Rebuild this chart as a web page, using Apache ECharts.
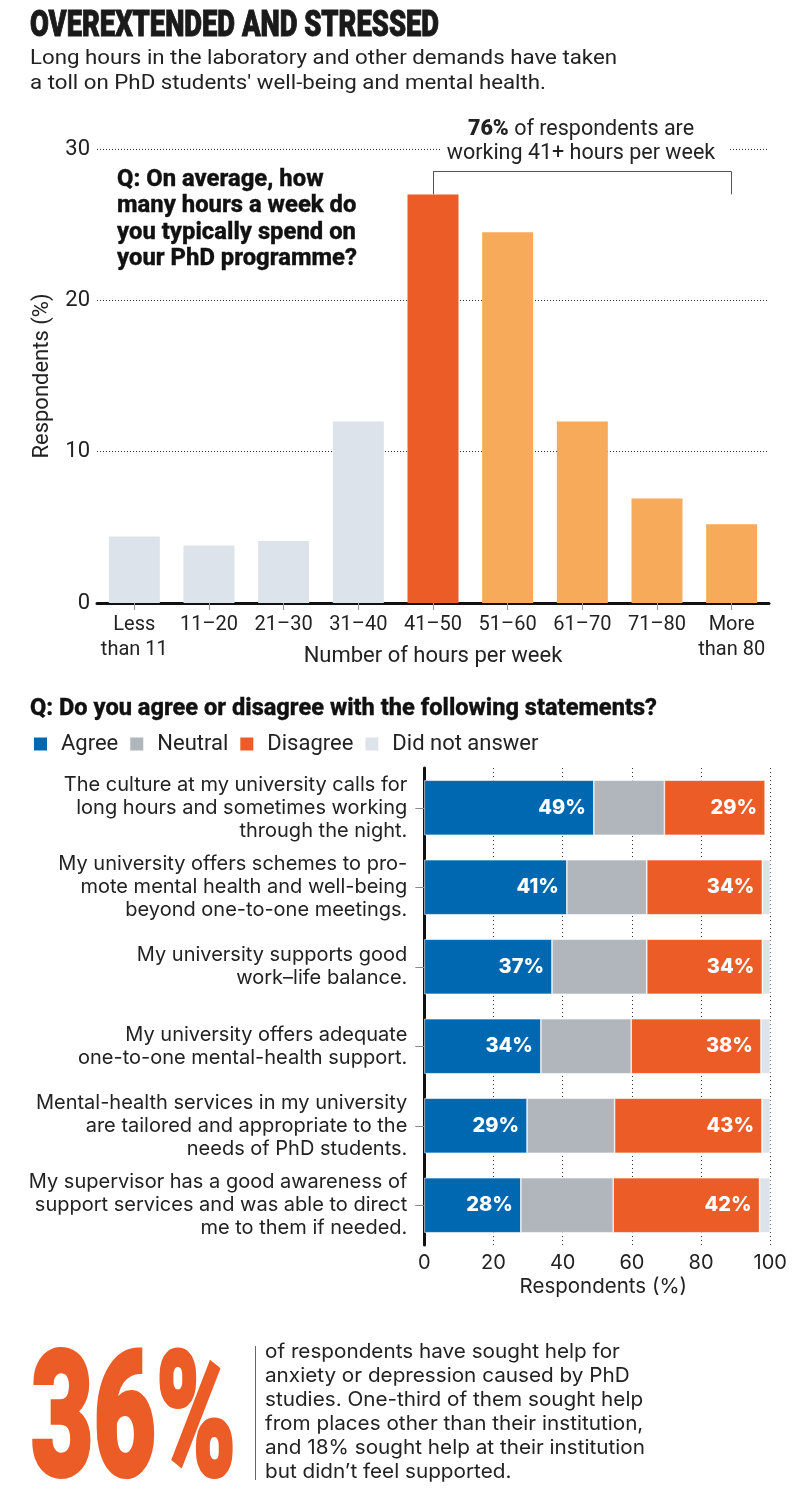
<!DOCTYPE html>
<html>
<head>
<meta charset="utf-8">
<script src="https://cdn.jsdelivr.net/npm/echarts@6/dist/echarts.min.js"></script>
<style>
html,body{margin:0;padding:0;background:#fff}
#chart{width:800px;height:1497px}
</style>
</head>
<body>
<div id="chart"></div>
<script>
var hourCats = ['Less\nthan 11','11–20','21–30','31–40','41–50','51–60','61–70','71–80','More\nthan 80'];
var hourVals = [4.4,3.8,4.1,12,27,24.5,12,6.9,5.2];

var statements = [
	'The culture at my university calls for\nlong hours and sometimes working\nthrough the night.',
	'My university offers schemes to pro-\nmote mental health and well-being\nbeyond one-to-one meetings.',
	'My university supports good\nwork–life balance.',
	'My university offers adequate\none-to-one mental-health support.',
	'Mental-health services in my university\nare tailored and appropriate to the\nneeds of PhD students.',
	'My supervisor has a good awareness of\nsupport services and was able to direct\nme to them if needed.'
];
var agree = [49,41.2,36.9,33.7,29.7,27.9];
var neutral = [20.4,23.1,27.4,26.1,25.3,26.7];
var disagree = [29.1,33.4,33.4,37.5,42.6,42.3];
var noAnswer = [0.3,2.3,2.3,2.7,2.4,3.1];
var agreeLabels = ['49%','41%','37%','34%','29%','28%'];
var disagreeLabels = ['29%','34%','34%','38%','43%','42%'];

var BLUE='#0068b0', GREY='#b0b6bc', ORANGE='#ec5c26', LIGHT='#dde3ea', AMBER='#f6aa5a', INK='#222';
var FONT='Roboto', WIDE='Inter';

// squeeze a text block to the width it has in the print layout
var ctx = document.createElement('canvas').getContext('2d');
function fit(text,x,y,family,size,weight,width,lineHeight,color,bold){
	ctx.font = weight+' '+size+'px '+family;
	var w = 0;
	text.split('\n').forEach(function(l){ w = Math.max(w, ctx.measureText(l).width); });
	return {
		type:'text', x:x, y:y, z:20, scaleX:width/w, silent:true,
		style:{
			text:text, x:0, y:0, fontFamily:family, fontSize:size, fontWeight:weight,
			fill:color||INK, lineHeight:lineHeight||size*1.2, verticalAlign:'top',
			stroke:bold?(color||INK):null, lineWidth:bold||0
		}
	};
}

function stackSeries(name,vals,color,labels){
	return {
		name:name, type:'bar', stack:'a', xAxisIndex:1, yAxisIndex:1, barWidth:55,
		data:vals,
		itemStyle:{color:color,borderColor:'#fff',borderWidth:0.6},
		label:{
			show:!!labels, position:'insideRight', distance:8, color:'#fff',
			fontFamily:WIDE, fontSize:20, fontWeight:800, padding:[3,0,0,0],
			formatter:function(p){ return labels[p.dataIndex]; }
		}
	};
}

var chart = echarts.init(document.getElementById('chart'),null,{renderer:'canvas'});
chart.setOption({
	animation:false,
	textStyle:{fontFamily:FONT},
	legend:{
		left:32, top:733, padding:0, icon:'rect', itemWidth:15, itemHeight:15, itemGap:10,
		data:['Agree','Neutral','Disagree','Did not answer'],
		selectedMode:false,
		textStyle:{fontFamily:FONT,fontSize:22,color:INK,padding:[0,0,0,8]}
	},
	grid:[
		{left:97,top:149,width:672,height:454},
		{left:424.3,top:768,width:346,height:477}
	],
	xAxis:[
		{
			type:'category', gridIndex:0, data:hourCats,
			axisLine:{lineStyle:{color:'#111',width:3}},
			axisTick:{show:true,alignWithLabel:true,length:7,lineStyle:{color:'#999'}},
			axisLabel:{fontSize:20,color:INK,margin:9,lineHeight:25,interval:0},
			name:'Number of hours per week', nameLocation:'middle', nameGap:42, nameMoveOverlap:false,
			nameTextStyle:{fontSize:22,color:INK}
		},
		{
			type:'value', gridIndex:1, min:0, max:100, interval:20,
			axisLine:{show:false}, axisTick:{show:false},
			axisLabel:{fontFamily:WIDE,fontSize:20,color:INK,margin:8},
			splitLine:{show:true,lineStyle:{color:'#333',type:[1,3],width:1}},
			name:'Respondents (%)', nameLocation:'middle', nameGap:31, nameMoveOverlap:false,
			nameTextStyle:{fontFamily:WIDE,fontSize:20.5,color:INK,padding:[0,0,0,12]}
		}
	],
	yAxis:[
		{
			type:'value', gridIndex:0, min:0, max:30, interval:10,
			axisLine:{show:false}, axisTick:{show:false},
			axisLabel:{fontSize:22,color:INK,margin:7,padding:[8,0,0,0]},
			splitLine:{show:true,lineStyle:{color:'#333',type:[1,2],width:1}},
			name:'Respondents (%)', nameLocation:'middle', nameGap:44,
			nameTextStyle:{fontSize:22,color:INK}
		},
		{
			type:'category', gridIndex:1, inverse:true, data:statements,
			axisLine:{lineStyle:{color:'#111',width:3}},
			axisTick:{show:true,alignWithLabel:true,length:9,lineStyle:{color:'#888'}},
			axisLabel:{fontFamily:WIDE,fontSize:20,color:INK,margin:17,lineHeight:23,align:'right',interval:0}
		}
	],
	series:[
		{
			name:'hours', type:'bar', xAxisIndex:0, yAxisIndex:0, barWidth:51,
			data:hourVals,
			itemStyle:{color:function(p){ return p.dataIndex<4?LIGHT:(p.dataIndex==4?ORANGE:AMBER); }},
			markLine:{
				silent:true, symbol:'none', animation:false,
				label:{show:false},
				lineStyle:{color:'#555',width:1,type:'solid'},
				data:[
					[{coord:[4,28.5]},{coord:[8,28.5]}],
					[{coord:[4,28.5]},{coord:[4,27]}],
					[{coord:[8,28.5]},{coord:[8,27]}]
				]
			}
		},
		stackSeries('Agree',agree,BLUE,agreeLabels),
		stackSeries('Neutral',neutral,GREY),
		stackSeries('Disagree',disagree,ORANGE,disagreeLabels),
		stackSeries('Did not answer',noAnswer,LIGHT)
	],
	graphic:[
		fit('OVEREXTENDED AND STRESSED',30,7,FONT,36,900,409,40,'#1a1a1a',1),
		fit('Long hours in the laboratory and other demands have taken\na toll on PhD students\' well-being and mental health.',30,46,FONT,21,'normal',587,25),
		// breaks the 30 gridline behind the callout
		{type:'rect',z:10,silent:true,shape:{x:440,y:140,width:290,height:20},style:{fill:'#fff'}},
		{
			type:'text', z:20, silent:true, x:581, y:117,
			style:{
				text:'{b|76%} of respondents are\nworking 41+ hours per week',
				align:'center', verticalAlign:'top', fontFamily:FONT, fontSize:21.5, lineHeight:24.5, fill:INK,
				rich:{b:{fontFamily:FONT,fontSize:21.5,fontWeight:900,fill:INK}}
			}
		},
		fit('Q: On average, how\nmany hours a week do\nyou typically spend on\nyour PhD programme?',117,167,FONT,23,800,240,26.3,'#111',0.3),
		fit('Q: Do you agree or disagree with the following statements?',30,696,FONT,23,800,627,26,'#111',0.3),
		fit('36%',31,1344,FONT,175,900,205,175,ORANGE,4),
		{type:'line',z:20,silent:true,shape:{x1:255.5,y1:1346,x2:255.5,y2:1480},style:{stroke:'#666',lineWidth:1}},
		fit('of respondents have sought help for\nanxiety or depression caused by PhD\nstudies. One-third of them sought help\nfrom places other than their institution,\nand 18% sought help at their institution\nbut didn’t feel supported.',265,1340,WIDE,20,'normal',380,24)
	]
});
</script>
</body>
</html>
